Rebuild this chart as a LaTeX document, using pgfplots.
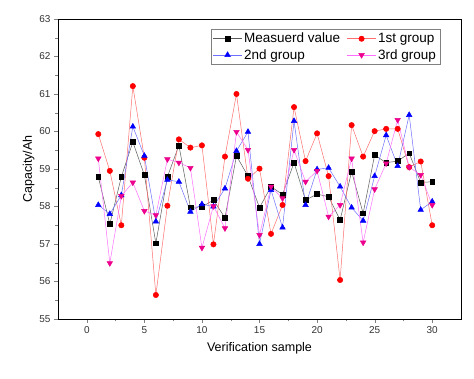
\documentclass[border=0pt]{standalone}
\usepackage{pgfplots}
\pgfplotsset{compat=1.18}
\usepackage{fontspec}
\setmainfont{Liberation Sans}
\definecolor{lred}{RGB}{255,110,110}
\definecolor{lblue}{RGB}{110,110,255}
\definecolor{lmag}{RGB}{255,110,255}
\definecolor{lgray}{RGB}{90,90,90}
\begin{document}
\begin{tikzpicture}
\begin{axis}[
  scale only axis,
  width=403pt, height=300pt,
  xmin=-2.5, xmax=32.5, ymin=55, ymax=63,
  xtick={0,5,...,30}, ytick={55,56,...,63},
  minor x tick num=1, minor y tick num=1,
  tick pos=left, tick align=outside,
  major tick length=4pt, minor tick length=2.5pt,
  /pgf/number format/assume math mode=true,
  tick label style={font=\fontsize{10}{12}\selectfont, text=black!80},
  xlabel={Verification sample}, ylabel={Capacity/Ah},
  label style={font=\fontsize{12.5}{14}\selectfont},
  xlabel style={yshift=-2pt},
  ylabel style={yshift=-2pt},
  axis line style={line width=0.8pt},
  every axis plot/.append style={line width=0.5pt},
  legend columns=2,
  legend image code/.code={\draw[mark repeat=2,mark phase=2] plot coordinates {(0cm,0cm)(0.5cm,0cm)(1cm,0cm)};},
  legend style={at={(rel axis cs:0.948,0.967)}, anchor=north east,
    draw=gray, font=\fontsize{13.5}{15}\selectfont, row sep=1pt, inner sep=2pt,
    /tikz/every even column/.append style={column sep=5pt}},
  legend cell align=left,
]
\addplot[color=lgray, mark=square*, mark size=2.4pt, mark options={fill=black, draw=black}] coordinates {
(1,58.79)(2,57.53)(3,58.79)(4,59.72)(5,58.84)(6,57.02)(7,58.79)(8,59.63)(9,57.98)(10,57.99)
(11,58.17)(12,57.70)(13,59.35)(14,58.81)(15,57.97)(16,58.53)(17,58.32)(18,59.17)(19,58.17)(20,58.33)
(21,58.26)(22,57.64)(23,58.93)(24,57.82)(25,59.37)(26,59.17)(27,59.21)(28,59.42)(29,58.64)(30,58.66)};
\addlegendentry{Measuerd value}
\addplot[color=lred, mark=*, mark size=2.7pt, mark options={fill=red, draw=red}] coordinates {
(1,59.93)(2,58.95)(3,57.50)(4,61.21)(5,59.30)(6,55.64)(7,58.02)(8,59.79)(9,59.57)(10,59.63)
(11,56.99)(12,59.33)(13,61.00)(14,58.74)(15,59.01)(16,57.27)(17,58.04)(18,60.65)(19,59.21)(20,59.95)
(21,58.81)(22,56.04)(23,60.17)(24,59.33)(25,60.01)(26,60.07)(27,60.07)(28,59.05)(29,59.20)(30,57.50)};
\addlegendentry{1st group}
\addplot[color=lblue, mark=triangle*, mark size=3.2pt, mark options={fill=blue, draw=blue}] coordinates {
(1,58.04)(2,57.80)(3,58.30)(4,60.13)(5,59.35)(6,57.60)(7,58.71)(8,58.66)(9,57.86)(10,58.06)
(11,58.00)(12,58.48)(13,59.48)(14,59.99)(15,57.00)(16,58.44)(17,57.44)(18,60.28)(19,58.04)(20,58.99)
(21,59.03)(22,58.53)(23,57.97)(24,57.62)(25,58.81)(26,59.90)(27,59.08)(28,60.44)(29,57.91)(30,58.13)};
\addlegendentry{2nd group}
\addplot[color=lmag, mark=triangle*, mark size=3.2pt, mark options={fill=magenta, draw=magenta, rotate=180}] coordinates {
(1,59.28)(2,56.49)(3,58.28)(4,58.64)(5,57.88)(6,57.77)(7,59.26)(8,59.17)(9,59.03)(10,56.90)
(11,58.01)(12,57.42)(13,59.99)(14,59.51)(15,57.24)(16,58.53)(17,58.22)(18,59.51)(19,58.66)(20,58.95)
(21,57.73)(22,58.04)(23,59.28)(24,57.04)(25,58.46)(26,59.15)(27,60.31)(28,59.05)(29,58.84)(30,58.04)};
\addlegendentry{3rd group}
\end{axis}
\path (current axis.south west) ++(-58pt,-60pt) rectangle ++(474pt,379pt);
\end{tikzpicture}
\end{document}
